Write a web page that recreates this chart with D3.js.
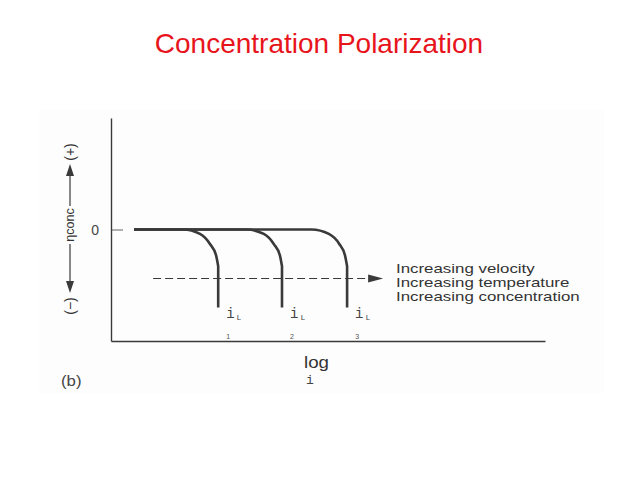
<!DOCTYPE html>
<html>
<head>
<meta charset="utf-8">
<script src="https://cdn.jsdelivr.net/npm/d3@7"></script>
<style>
  body { margin: 0; background: #fff; }
  svg { display: block; }
</style>
</head>
<body>
<div id="chart"></div>
<script>
(function(){
    // Data (log i in arbitrary units, eta_conc in arbitrary units)
    const curve1 = [[0.53, 0], [1.66, 0], [2.05, -0.04], [2.28, -0.13], [2.42, -0.23], [2.47, -0.33], [2.47, -0.70]];
    const curve2 = [[0.53, 0], [3.12, 0], [3.52, -0.04], [3.75, -0.13], [3.89, -0.23], [3.94, -0.33], [3.94, -0.70]];
    const curve3 = [[0.53, 0], [4.62, 0], [5.02, -0.04], [5.26, -0.13], [5.39, -0.23], [5.44, -0.33], [5.44, -0.70]];
    const curves = [curve1, curve2, curve3];
    const limitX = [2.47, 3.94, 5.44];
    const limitSubs = ["1", "2", "3"];
    const yTicks = [0];
    const trendLine = [[0.97, -0.44], [6.27, -0.44]];
    const legendLines = ["Increasing velocity", "Increasing temperature", "Increasing concentration"];

    const W = 638, H = 478;
    const ink = "#3a3a3a";
    const sans = "'Liberation Sans', Arial, sans-serif";
    const mono = "'Liberation Mono', 'Courier New', monospace";

    const svg = d3.select("#chart")
        .append("svg")
        .attr("width", W)
        .attr("height", H);

    // Title
    svg.append("text")
        .attr("x", 319)
        .attr("y", 53)
        .attr("text-anchor", "middle")
        .style("font-family", sans)
        .style("font-size", "28px")
        .style("fill", "#e8141c")
        .text("Concentration Polarization");

    // faint scanned page
    svg.append("rect")
        .attr("x", 39).attr("y", 110)
        .attr("width", 565).attr("height", 283)
        .attr("fill", "#fdfdfd");

    const x = d3.scaleLinear().domain([0, 10]).range([111, 545]);
    const y = d3.scaleLinear().domain([-1, 1]).range([341, 118]);

    // Axes
    const yAxis = svg.append("g")
        .attr("transform", `translate(${x(0)},0)`)
        .call(d3.axisLeft(y).tickValues(yTicks).tickFormat(d3.format("d"))
            .tickSizeInner(-12).tickSizeOuter(0).tickPadding(12));
    yAxis.select(".domain").attr("stroke", ink).attr("stroke-width", 1.4);
    yAxis.selectAll(".tick line").attr("stroke", ink).attr("stroke-width", 0.8);
    yAxis.selectAll(".tick text")
        .style("font-family", sans)
        .style("font-size", "14px")
        .attr("fill", "#444")
        .attr("dy", "0.36em");

    const xAxis = svg.append("g")
        .attr("transform", `translate(0,${y(-1)})`)
        .call(d3.axisBottom(x).tickValues([]).tickSizeOuter(0));
    xAxis.select(".domain").attr("stroke", ink).attr("stroke-width", 1.4);

    // Polarization curves: smooth knee, then straight drop at the limiting current
    const line = d3.line()
        .x(d => x(d[0]))
        .y(d => y(d[1]))
        .curve(d3.curveMonotoneX);

    svg.selectAll(".pol-curve")
        .data(curves)
        .enter()
        .append("path")
        .attr("class", "pol-curve")
        .attr("fill", "none")
        .attr("stroke", ink)
        .attr("stroke-width", 2.6)
        .attr("stroke-linejoin", "round")
        .attr("d", d => {
            const last = d[d.length - 1];
            return line(d.slice(0, -1)) + `L${x(last[0])},${y(last[1])}`;
        });

    // Dashed trend arrow
    const tx0 = x(trendLine[0][0]), tx1 = x(trendLine[1][0]), ty = y(trendLine[0][1]);
    svg.append("line")
        .attr("x1", tx0).attr("x2", tx1 - 12)
        .attr("y1", ty).attr("y2", ty)
        .attr("stroke", ink)
        .attr("stroke-width", 1.1)
        .attr("stroke-dasharray", "8,4");
    svg.append("path")
        .attr("d", `M${tx1},${ty} L${tx1 - 15},${ty - 4} L${tx1 - 15},${ty + 4} Z`)
        .attr("fill", ink);

    // Legend text
    svg.selectAll(".legend-text")
        .data(legendLines)
        .enter()
        .append("text")
        .attr("class", "legend-text")
        .attr("transform", (d, i) => `translate(396,${273 + i * 14}) scale(1.25,1)`)
        .style("font-family", sans)
        .style("font-size", "13.5px")
        .attr("fill", "#333")
        .text(d => d);

    // Limiting current labels
    limitX.forEach((v, i) => {
        const t = svg.append("text")
            .attr("x", x(v) + 8)
            .attr("y", 318)
            .style("font-family", mono)
            .attr("fill", "#444");
        t.append("tspan").style("font-size", "14px").text("i");
        t.append("tspan").style("font-size", "8px").attr("dx", 2).attr("dy", 2).text("L");

        svg.append("text")
            .attr("x", x(v) + 10)
            .attr("y", 339)
            .attr("text-anchor", "middle")
            .style("font-family", sans)
            .style("font-size", "7px")
            .attr("fill", "#555")
            .text(limitSubs[i]);
    });

    // X axis label
    svg.append("text")
        .attr("transform", "translate(304,368) scale(1.1,1)")
        .style("font-family", sans)
        .style("font-size", "17px")
        .attr("fill", "#333")
        .text("log");
    svg.append("text")
        .attr("x", 306)
        .attr("y", 384)
        .style("font-family", mono)
        .style("font-size", "13px")
        .attr("fill", "#444")
        .text("i");

    // (b)
    svg.append("text")
        .attr("transform", "translate(61,386) scale(1.2,1)")
        .style("font-family", sans)
        .style("font-size", "14px")
        .attr("fill", "#444")
        .text("(b)");

    // Y axis label with arrows
    const yl = svg.append("g").attr("transform", "translate(70,225) rotate(-90)");
    const ylText = (u, str, size) => yl.append("text")
        .attr("x", u).attr("y", 0)
        .attr("text-anchor", "middle")
        .attr("dominant-baseline", "central")
        .style("font-family", sans)
        .style("font-size", size)
        .attr("fill", "#333")
        .text(str);
    ylText(0, "\u03b7conc", "12.5px");
    ylText(73, "(+)", "14px");
    ylText(-81, "(\u2212)", "14px");
    yl.append("line").attr("x1", 19).attr("x2", 50).attr("y1", 0).attr("y2", 0)
        .attr("stroke", ink).attr("stroke-width", 1.2);
    yl.append("path").attr("d", "M61,0 L49,-4 L49,4 Z").attr("fill", ink);
    yl.append("line").attr("x1", -19).attr("x2", -56).attr("y1", 0).attr("y2", 0)
        .attr("stroke", ink).attr("stroke-width", 1.2);
    yl.append("path").attr("d", "M-68,0 L-56,-4 L-56,4 Z").attr("fill", ink);
})();
</script>
</body>
</html>
